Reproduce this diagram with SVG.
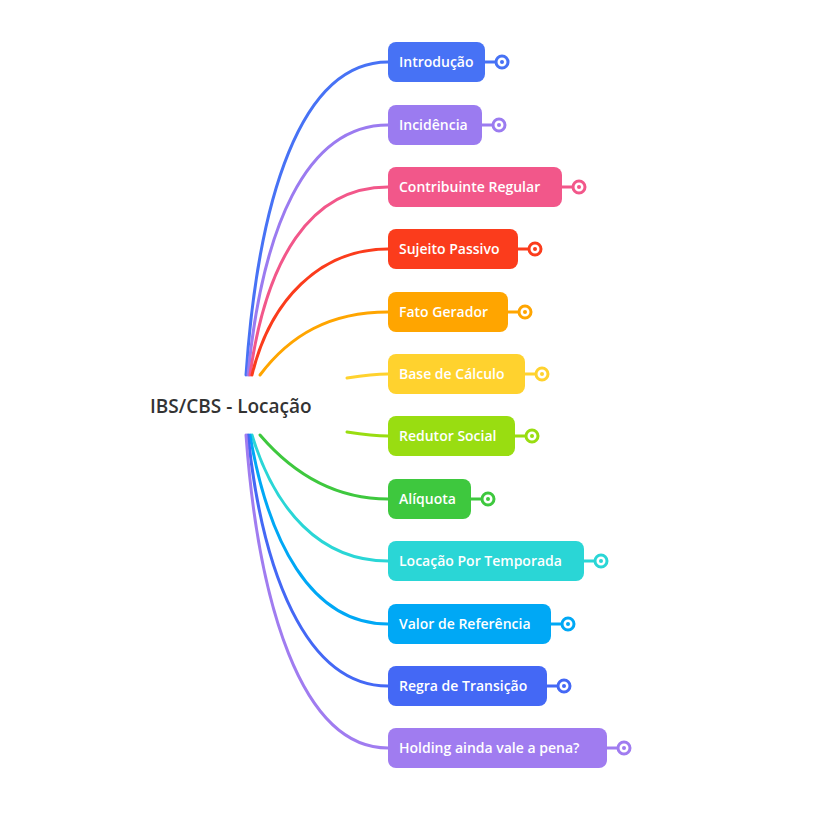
<svg xmlns="http://www.w3.org/2000/svg" width="834" height="826" viewBox="0 0 834 826">
<style>
.t{font-family:"Open Sans","Noto Sans",sans-serif;font-size:14px;font-weight:600;fill:#fff}
.c{fill:none;stroke-width:3;stroke-linecap:round}
.k{fill:#fff;stroke-width:3}
</style>
<rect width="834" height="826" fill="#fff"/>
<g id="connectors">
<path class="c" stroke="#4772f5" d="M246,375 C258,200 300,62 388,62"/>
<path class="c" stroke="#9b7bf0" d="M248,375 C262,230 305,125 388,125"/>
<path class="c" stroke="#f2578a" d="M250,375 C266,260 310,187 388,187"/>
<path class="c" stroke="#fb3c1c" d="M252,375 C270,300 320,249 388,249"/>
<path class="c" stroke="#ffa500" d="M260,375 C290,335 330,312 388,312"/>
<path class="c" stroke="#ffd22e" d="M347,378 C360,376 375,374 388,374"/>
<path class="c" stroke="#99dd11" d="M347,432 C360,434 375,436 388,436"/>
<path class="c" stroke="#3ec83e" d="M260,435 C290,470 330,499 388,499"/>
<path class="c" stroke="#2ad6d6" d="M252,435 C275,510 320,561 388,561"/>
<path class="c" stroke="#00a8f5" d="M250,435 C268,540 310,624 388,624"/>
<path class="c" stroke="#4468f5" d="M248,435 C262,570 305,686 388,686"/>
<path class="c" stroke="#a07cf0" d="M246,435 C258,600 300,748 388,748"/>
</g>
<text x="150" y="413" font-family="'Open Sans','Noto Sans',sans-serif" font-size="19" font-weight="600" fill="#333">IBS/CBS - Locação</text>
<g id="n1"><rect x="388" y="42" width="97" height="40" rx="8" fill="#4772f5"/><text class="t" x="399" y="67" font-weight="400">Introdução</text><path class="c" stroke="#4772f5" d="M485,62H496"/><circle class="k" cx="502" cy="62" r="6" stroke="#4772f5"/><circle cx="502" cy="62" r="2" fill="#4772f5"/></g>
<g id="n2"><rect x="388" y="105" width="94" height="40" rx="8" fill="#9b7bf0"/><text class="t" x="399" y="130">Incidência</text><path class="c" stroke="#9b7bf0" d="M482,125H493"/><circle class="k" cx="499" cy="125" r="6" stroke="#9b7bf0"/><circle cx="499" cy="125" r="2" fill="#9b7bf0"/></g>
<g id="n3"><rect x="388" y="167" width="174" height="40" rx="8" fill="#f2578a"/><text class="t" x="399" y="192">Contribuinte Regular</text><path class="c" stroke="#f2578a" d="M562,187H573"/><circle class="k" cx="579" cy="187" r="6" stroke="#f2578a"/><circle cx="579" cy="187" r="2" fill="#f2578a"/></g>
<g id="n4"><rect x="388" y="229" width="130" height="40" rx="8" fill="#fb3c1c"/><text class="t" x="399" y="254">Sujeito Passivo</text><path class="c" stroke="#fb3c1c" d="M518,249H529"/><circle class="k" cx="535" cy="249" r="6" stroke="#fb3c1c"/><circle cx="535" cy="249" r="2" fill="#fb3c1c"/></g>
<g id="n5"><rect x="388" y="292" width="120" height="40" rx="8" fill="#ffa500"/><text class="t" x="399" y="317">Fato Gerador</text><path class="c" stroke="#ffa500" d="M508,312H519"/><circle class="k" cx="525" cy="312" r="6" stroke="#ffa500"/><circle cx="525" cy="312" r="2" fill="#ffa500"/></g>
<g id="n6"><rect x="388" y="354" width="137" height="40" rx="8" fill="#ffd22e"/><text class="t" x="399" y="379">Base de Cálculo</text><path class="c" stroke="#ffd22e" d="M525,374H536"/><circle class="k" cx="542" cy="374" r="6" stroke="#ffd22e"/><circle cx="542" cy="374" r="2" fill="#ffd22e"/></g>
<g id="n7"><rect x="388" y="416" width="127" height="40" rx="8" fill="#99dd11"/><text class="t" x="399" y="441">Redutor Social</text><path class="c" stroke="#99dd11" d="M515,436H526"/><circle class="k" cx="532" cy="436" r="6" stroke="#99dd11"/><circle cx="532" cy="436" r="2" fill="#99dd11"/></g>
<g id="n8"><rect x="388" y="479" width="83" height="40" rx="8" fill="#3ec83e"/><text class="t" x="399" y="504">Alíquota</text><path class="c" stroke="#3ec83e" d="M471,499H482"/><circle class="k" cx="488" cy="499" r="6" stroke="#3ec83e"/><circle cx="488" cy="499" r="2" fill="#3ec83e"/></g>
<g id="n9"><rect x="388" y="541" width="196" height="40" rx="8" fill="#2ad6d6"/><text class="t" x="399" y="566">Locação Por Temporada</text><path class="c" stroke="#2ad6d6" d="M584,561H595"/><circle class="k" cx="601" cy="561" r="6" stroke="#2ad6d6"/><circle cx="601" cy="561" r="2" fill="#2ad6d6"/></g>
<g id="n10"><rect x="388" y="604" width="163" height="40" rx="8" fill="#00a8f5"/><text class="t" x="399" y="629">Valor de Referência</text><path class="c" stroke="#00a8f5" d="M551,624H562"/><circle class="k" cx="568" cy="624" r="6" stroke="#00a8f5"/><circle cx="568" cy="624" r="2" fill="#00a8f5"/></g>
<g id="n11"><rect x="388" y="666" width="159" height="40" rx="8" fill="#4468f5"/><text class="t" x="399" y="691">Regra de Transição</text><path class="c" stroke="#4468f5" d="M547,686H558"/><circle class="k" cx="564" cy="686" r="6" stroke="#4468f5"/><circle cx="564" cy="686" r="2" fill="#4468f5"/></g>
<g id="n12"><rect x="388" y="728" width="219" height="40" rx="8" fill="#a07cf0"/><text class="t" x="399" y="753">Holding ainda vale a pena?</text><path class="c" stroke="#a07cf0" d="M607,748H618"/><circle class="k" cx="624" cy="748" r="6" stroke="#a07cf0"/><circle cx="624" cy="748" r="2" fill="#a07cf0"/></g>
</svg>
